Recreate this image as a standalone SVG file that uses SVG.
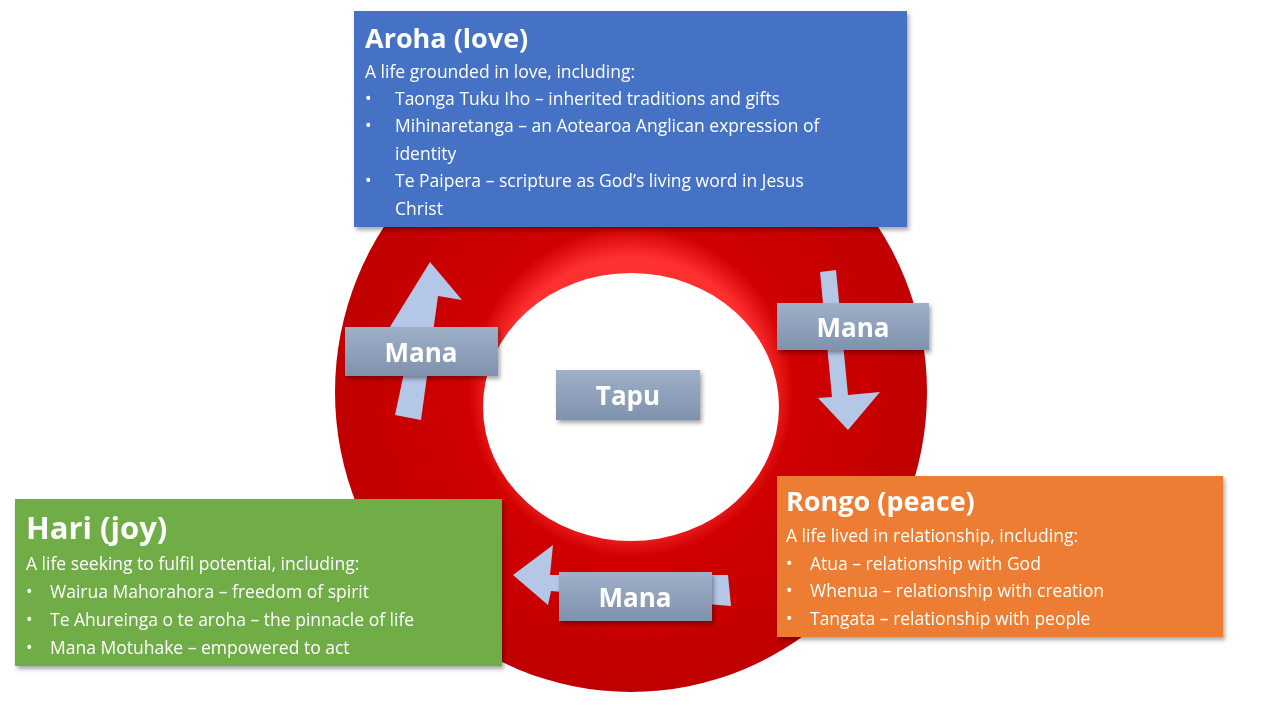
<svg xmlns="http://www.w3.org/2000/svg" width="1280" height="720" viewBox="0 0 1280 720">
<defs>
<radialGradient id="ring" cx="0.5" cy="0.5" r="0.5">
<stop offset="0.45" stop-color="#ff3030"/><stop offset="0.55" stop-color="#d00000"/><stop offset="1" stop-color="#c00000"/>
</radialGradient>
<linearGradient id="steel" x1="0" y1="0" x2="0" y2="1"><stop offset="0" stop-color="#9fb0c8"/><stop offset="1" stop-color="#7f92ad"/></linearGradient>
<filter id="sh" x="-10%" y="-10%" width="130%" height="130%"><feDropShadow dx="2" dy="3" stdDeviation="2" flood-opacity="0.35"/></filter>
</defs>
<style>
.t{font-family:"Open Sans","Noto Sans",sans-serif;fill:#fff}
.h{font-weight:bold;font-size:27px}
.b{font-size:17.5px}
.m{font-weight:bold;font-size:26px;text-anchor:middle}
</style>
<rect width="1280" height="720" fill="#fff"/>
<g id="ring-g">
<path d="M335,392 a296,300 0 1,0 592,0 a296,300 0 1,0 -592,0 Z M483,407 a148,134 0 1,1 296,0 a148,134 0 1,1 -296,0 Z" fill="url(#ring)" fill-rule="evenodd"/>
</g>
<g id="connectors" fill="#b4c7e7">
<polygon points="395,415 412,335 388,330 430,262 462,300 438,296 421,420"/>
<polygon points="820,272 836,270 848,395 880,392 848,430 818,398 832,397"/>
<polygon points="731,606 728,575 550,575 553,545 513,575 548,605 551,591"/>
</g>
<g id="aroha" filter="url(#sh)">
<rect x="354" y="11" width="553" height="216" fill="#4472c4"/>
<text class="t h" x="365" y="48">Aroha (love)</text>
<text class="t b" x="365" y="78">A life grounded in love, including:</text>
<text class="t b" x="365" y="105">•</text><text class="t b" x="395" y="105">Taonga Tuku Iho – inherited traditions and gifts</text>
<text class="t b" x="365" y="132">•</text><text class="t b" x="395" y="132">Mihinaretanga – an Aotearoa Anglican expression of</text>
<text class="t b" x="395" y="160">identity</text>
<text class="t b" x="365" y="187">•</text><text class="t b" x="395" y="187">Te Paipera – scripture as God’s living word in Jesus</text>
<text class="t b" x="395" y="215">Christ</text>
</g>
<g id="rongo" filter="url(#sh)">
<rect x="777" y="476" width="446" height="161" fill="#ed7d31"/>
<text class="t h" x="786" y="511">Rongo (peace)</text>
<text class="t b" x="786" y="542">A life lived in relationship, including:</text>
<text class="t b" x="786" y="570">•</text><text class="t b" x="810" y="570">Atua – relationship with God</text>
<text class="t b" x="786" y="597">•</text><text class="t b" x="810" y="597">Whenua – relationship with creation</text>
<text class="t b" x="786" y="625">•</text><text class="t b" x="810" y="625">Tangata – relationship with people</text>
</g>
<g id="hari" filter="url(#sh)">
<rect x="15" y="499" width="487" height="167" fill="#70ad47"/>
<text class="t" x="26" y="539" font-weight="bold" font-size="31">Hari (joy)</text>
<text class="t b" x="26" y="570">A life seeking to fulfil potential, including:</text>
<text class="t b" x="26" y="598">•</text><text class="t b" x="50" y="598">Wairua Mahorahora – freedom of spirit</text>
<text class="t b" x="26" y="626">•</text><text class="t b" x="50" y="626">Te Ahureinga o te aroha – the pinnacle of life</text>
<text class="t b" x="26" y="654">•</text><text class="t b" x="50" y="654">Mana Motuhake – empowered to act</text>
</g>
<g id="mana-left" filter="url(#sh)"><rect x="345" y="327" width="153" height="49" fill="url(#steel)"/><text class="t m" x="421" y="362">Mana</text></g>
<g id="mana-right" filter="url(#sh)"><rect x="777" y="303" width="152" height="47" fill="url(#steel)"/><text class="t m" x="853" y="337">Mana</text></g>
<g id="mana-bottom" filter="url(#sh)"><rect x="559" y="572" width="153" height="49" fill="url(#steel)"/><text class="t m" x="635" y="607">Mana</text></g>
<g id="tapu" filter="url(#sh)"><rect x="556" y="370" width="144" height="50" fill="url(#steel)"/><text class="t m" x="628" y="405">Tapu</text></g>
</svg>
